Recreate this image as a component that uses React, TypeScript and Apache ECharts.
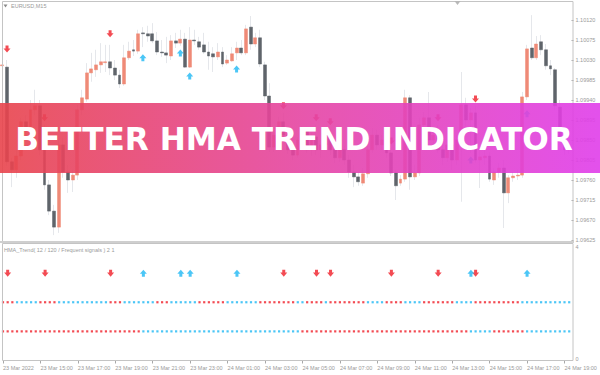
import React, { useEffect, useRef } from "react";
import * as echarts from "echarts";

const tickLabels = [
  "23 Mar 2022", "23 Mar 15:00", "23 Mar 17:00", "23 Mar 19:00", "23 Mar 21:00", "23 Mar 23:00",
  "24 Mar 01:00", "24 Mar 03:00", "24 Mar 05:00", "24 Mar 07:00", "24 Mar 09:00", "24 Mar 11:00",
  "24 Mar 13:00", "24 Mar 15:00", "24 Mar 17:00", "24 Mar 19:00",
];

const open = [
  1.10017, 1.10014, 1.09801, 1.09783, 1.09814, 1.09891, 1.09877, 1.09918, 1.09927, 1.09828,
  1.09749, 1.09690, 1.09654, 1.09839, 1.09778, 1.09760, 1.09771, 1.09918, 1.09942, 1.10001,
  1.10008, 1.10019, 1.10024, 1.10026, 1.10012, 1.09996, 1.09976, 1.10035, 1.10053, 1.10050,
  1.10091, 1.10089, 1.10089, 1.10073, 1.10048, 1.10046, 1.10039, 1.10073, 1.10068, 1.10077,
  1.10014, 1.10075, 1.10071, 1.10064, 1.10048, 1.10044, 1.10037, 1.10048, 1.10023, 1.10028,
  1.10046, 1.10057, 1.10046, 1.10104, 1.10066, 1.10080, 1.10019, 1.09949, 1.09834, 1.09861,
  1.09891, 1.09861, 1.09828, 1.09816, 1.09850, 1.09873, 1.09828, 1.09857, 1.09828, 1.09839,
  1.09859, 1.09828, 1.09810, 1.09828, 1.09805, 1.09778, 1.09767, 1.09753, 1.09774, 1.09828,
  1.09861, 1.09839, 1.09850, 1.09821, 1.09776, 1.09753, 1.09762, 1.09945, 1.09767, 1.09776,
  1.09884, 1.09900, 1.09850, 1.09861, 1.09828, 1.09810, 1.09839, 1.09805, 1.09850, 1.09929,
  1.09895, 1.09911, 1.09805, 1.09810, 1.09814, 1.09760, 1.09778, 1.09787, 1.09731, 1.09765,
  1.09769, 1.09771, 1.09947, 1.10057, 1.10035, 1.10071, 1.10053, 1.10017, 1.10008, 1.09924,
  1.09857, 1.09828,
];
const close = [
  1.10019, 1.09801, 1.09783, 1.09814, 1.09891, 1.09877, 1.09918, 1.09927, 1.09828, 1.09749,
  1.09690, 1.09654, 1.09839, 1.09778, 1.09760, 1.09771, 1.09918, 1.09945, 1.10001, 1.10010,
  1.10019, 1.10026, 1.10026, 1.10012, 1.09996, 1.09976, 1.10035, 1.10050, 1.10050, 1.10089,
  1.10089, 1.10084, 1.10073, 1.10048, 1.10046, 1.10041, 1.10073, 1.10068, 1.10077, 1.10014,
  1.10075, 1.10073, 1.10059, 1.10048, 1.10039, 1.10037, 1.10048, 1.10021, 1.10030, 1.10044,
  1.10057, 1.10046, 1.10100, 1.10066, 1.10080, 1.10021, 1.09949, 1.09834, 1.09861, 1.09891,
  1.09861, 1.09828, 1.09816, 1.09850, 1.09873, 1.09828, 1.09857, 1.09828, 1.09839, 1.09859,
  1.09828, 1.09810, 1.09828, 1.09805, 1.09778, 1.09767, 1.09756, 1.09774, 1.09828, 1.09861,
  1.09839, 1.09850, 1.09821, 1.09776, 1.09747, 1.09762, 1.09945, 1.09767, 1.09776, 1.09884,
  1.09900, 1.09850, 1.09861, 1.09828, 1.09810, 1.09839, 1.09805, 1.09850, 1.09929, 1.09895,
  1.09911, 1.09805, 1.09812, 1.09814, 1.09762, 1.09778, 1.09787, 1.09731, 1.09765, 1.09769,
  1.09771, 1.09947, 1.10055, 1.10035, 1.10066, 1.10053, 1.10017, 1.10010, 1.09927, 1.09857,
  1.09828, 1.09832,
];
const high = [
  1.10030, 1.10030, 1.09810, 1.09828, 1.09900, 1.09906, 1.09940, 1.09963, 1.09940, 1.09884,
  1.09760, 1.09704, 1.09850, 1.09855, 1.09794, 1.09783, 1.09929, 1.09963, 1.10023, 1.10046,
  1.10053, 1.10068, 1.10064, 1.10064, 1.10030, 1.10008, 1.10064, 1.10071, 1.10075, 1.10098,
  1.10104, 1.10107, 1.10113, 1.10093, 1.10075, 1.10082, 1.10086, 1.10091, 1.10098, 1.10091,
  1.10104, 1.10098, 1.10082, 1.10091, 1.10071, 1.10059, 1.10068, 1.10059, 1.10041, 1.10059,
  1.10071, 1.10075, 1.10109, 1.10129, 1.10091, 1.10098, 1.10026, 1.09978, 1.09873, 1.09902,
  1.09911, 1.09873, 1.09839, 1.09857, 1.09882, 1.09877, 1.09866, 1.09884, 1.09850, 1.09868,
  1.09875, 1.09839, 1.09834, 1.09837, 1.09816, 1.09794, 1.09778, 1.09787, 1.09839, 1.09877,
  1.09873, 1.09861, 1.09857, 1.09832, 1.09783, 1.09771, 1.09963, 1.09951, 1.09794, 1.09900,
  1.09913, 1.09958, 1.09873, 1.09884, 1.09839, 1.09850, 1.09850, 1.09861, 1.10003, 1.09945,
  1.09922, 1.09927, 1.09828, 1.09828, 1.09823, 1.09787, 1.09798, 1.09805, 1.09771, 1.09778,
  1.09783, 1.09958, 1.10064, 1.10131, 1.10084, 1.10086, 1.10066, 1.10030, 1.10012, 1.09940,
  1.09866, 1.09839,
];
const low = [
  1.10008, 1.09792, 1.09744, 1.09765, 1.09805, 1.09861, 1.09868, 1.09906, 1.09816, 1.09738,
  1.09681, 1.09636, 1.09641, 1.09765, 1.09731, 1.09733, 1.09760, 1.09906, 1.09936, 1.09981,
  1.09992, 1.10001, 1.10003, 1.09996, 1.09985, 1.09967, 1.09972, 1.10030, 1.10039, 1.10044,
  1.10059, 1.10071, 1.10068, 1.10041, 1.10037, 1.10023, 1.10030, 1.10057, 1.10062, 1.10012,
  1.10012, 1.10064, 1.10053, 1.10044, 1.10008, 1.10003, 1.10030, 1.10014, 1.10019, 1.10026,
  1.10030, 1.10041, 1.10041, 1.10053, 1.10059, 1.10014, 1.09940, 1.09823, 1.09823, 1.09850,
  1.09850, 1.09819, 1.09805, 1.09810, 1.09839, 1.09821, 1.09814, 1.09816, 1.09810, 1.09828,
  1.09816, 1.09798, 1.09801, 1.09794, 1.09765, 1.09744, 1.09747, 1.09747, 1.09765, 1.09821,
  1.09828, 1.09828, 1.09810, 1.09769, 1.09715, 1.09747, 1.09756, 1.09738, 1.09760, 1.09769,
  1.09873, 1.09843, 1.09839, 1.09821, 1.09794, 1.09801, 1.09783, 1.09794, 1.09711, 1.09877,
  1.09821, 1.09798, 1.09742, 1.09794, 1.09756, 1.09749, 1.09765, 1.09652, 1.09708, 1.09756,
  1.09760, 1.09765, 1.09940, 1.10030, 1.10030, 1.10041, 1.10008, 1.09996, 1.09918, 1.09850,
  1.09816, 1.09819,
];

const priceTicks = [
  1.09625, 1.0967, 1.09715, 1.0976, 1.09805, 1.0985, 1.09895, 1.0994, 1.09985, 1.1003, 1.10075, 1.1012,
];

const sellBars = [1, 9, 23, 60, 67, 70, 83, 93, 101];
const sellArrowPrice = [1.10055, 1.099, 1.10089, 1.09927, 1.099, 1.09891, 1.09848, 1.099, 1.09942];
const buyBars = [30, 38, 40, 50, 100, 112];
const buyArrowPrice = [1.10035, 1.10046, 1.09994, 1.1001, 1.09805, 1.09909];

// trend runs: [length, colour] ; r = down (red), c = up (cyan)
const fastRuns: [number, string][] = [
  [3, "r"], [5, "c"], [4, "r"], [11, "c"], [3, "r"], [7, "c"], [3, "r"], [6, "c"], [6, "r"], [7, "c"],
  [8, "r"], [2, "c"], [4, "r"], [1, "c"], [8, "r"], [4, "c"], [4, "r"], [4, "c"], [7, "r"], [3, "c"],
  [1, "c"], [10, "r"], [11, "c"],
];
const slowRuns: [number, string][] = [
  [30, "r"], [34, "c"], [36, "r"], [5, "c"], [7, "r"], [10, "c"],
];

const RED = "#F01E28";
const CYAN = "#1EB8F4";
const BULL = "#EF8A77";
const BEAR = "#5F646A";
const WICK = "#D4D7DD";
const AXIS_TXT = "#9a9a9a";
const FONT = "Liberation Sans";

const DOWN_ARROW = "path://M2,0 L5,0 L5,3 L7,3 L3.5,7 L0,3 L2,3 Z";
const UP_ARROW = "path://M3.5,0 L7,4 L5,4 L5,7 L2,7 L2,4 L0,4 Z";

function expandRuns(runs: [number, string][]): string[] {
  const out: string[] = [];
  runs.forEach(([n, c]) => {
    for (let k = 0; k < n; k++) out.push(c);
  });
  return out;
}

export default function App() {
  const ref = useRef<HTMLDivElement>(null);

  useEffect(() => {
    if (!ref.current) return;
    const chart = echarts.init(ref.current, undefined, { renderer: "svg" });

    const n = open.length;
    const start = Date.UTC(2022, 2, 23, 13, 0);
    const cats: string[] = [];
    for (let i = 0; i < n; i++) {
      const d = new Date(start + i * 15 * 60000);
      cats.push(d.toISOString().slice(0, 16));
    }
    const wickData = open.map((o, i) => [o, close[i], low[i], high[i]]);
    const bodyData = open.map((o, i) => [o, close[i], Math.min(o, close[i]), Math.max(o, close[i])]);
    const fast = expandRuns(fastRuns);
    const slow = expandRuns(slowRuns);

    const bw = 4.6875;
    const gridLeft = 2 - bw / 2;
    const gridWidth = bw * n;

    const showEvery8 = (idx: number) => idx % 8 === 0;

    chart.setOption({
      animation: false,
      backgroundColor: "#ffffff",
      grid: [
        { left: gridLeft, top: 2, width: gridWidth, height: 240 },
        { left: gridLeft, top: 244, width: gridWidth, height: 116.5 },
      ],
      xAxis: [
        {
          type: "category", gridIndex: 0, data: cats, boundaryGap: true,
          axisLine: { show: false }, axisTick: { show: false }, axisLabel: { show: false }, splitLine: { show: false },
        },
        {
          type: "category", gridIndex: 1, data: cats, boundaryGap: true,
          axisLine: { show: false },
          axisTick: { show: true, alignWithLabel: true, interval: showEvery8, length: 3, lineStyle: { color: "#a8a8a8", width: 1 } },
          axisLabel: {
            show: true, interval: showEvery8, align: "left", margin: 4, fontSize: 5.5, color: AXIS_TXT, fontFamily: FONT,
            formatter: (_v: string, idx: number) => (idx % 8 === 0 ? tickLabels[idx / 8] ?? "" : ""),
          },
          splitLine: { show: false },
        },
      ],
      yAxis: [
        {
          type: "value", gridIndex: 0, position: "right", min: 1.096205, max: 1.101605,
          axisLine: { show: false },
          axisTick: { show: true, length: 2, customValues: priceTicks, lineStyle: { color: "#a8a8a8" } },
          axisLabel: {
            show: true, customValues: priceTicks, margin: 4, fontSize: 5.5, color: AXIS_TXT, fontFamily: FONT,
            formatter: (v: number) => v.toFixed(5),
          },
          splitLine: { show: false },
        },
        {
          type: "value", gridIndex: 1, position: "right", min: 0, max: 4,
          axisLine: { show: false },
          axisTick: { show: false },
          axisLabel: {
            show: true, customValues: [0, 4], margin: 4, fontSize: 5.5, color: AXIS_TXT, fontFamily: FONT,
            formatter: (v: number) => (v === 4 ? "{t|4}" : "{b|0}"),
            rich: {
              t: { padding: [6, 0, 0, 0], fontSize: 5.5, color: AXIS_TXT, fontFamily: FONT },
              b: { padding: [0, 0, 3, 0], fontSize: 5.5, color: AXIS_TXT, fontFamily: FONT },
            },
          },
          splitLine: { show: false },
        },
      ],
      series: [
        {
          type: "candlestick", xAxisIndex: 0, yAxisIndex: 0, data: wickData, barWidth: 1,
          itemStyle: { color: WICK, color0: WICK, borderColor: WICK, borderColor0: WICK, borderWidth: 0.6 },
          z: 1,
        },
        {
          type: "candlestick", xAxisIndex: 0, yAxisIndex: 0, data: bodyData, barWidth: 3.4,
          itemStyle: { color: BULL, color0: BEAR, borderColor: BULL, borderColor0: BEAR, borderWidth: 0.5 },
          z: 2,
        },
        {
          type: "scatter", xAxisIndex: 0, yAxisIndex: 0, symbol: DOWN_ARROW, symbolSize: 7,
          data: sellBars.map((b, k) => [b, sellArrowPrice[k]]), itemStyle: { color: RED }, z: 3,
        },
        {
          type: "scatter", xAxisIndex: 0, yAxisIndex: 0, symbol: UP_ARROW, symbolSize: 7,
          data: buyBars.map((b, k) => [b, buyArrowPrice[k]]), itemStyle: { color: CYAN }, z: 3,
        },
        {
          type: "scatter", xAxisIndex: 1, yAxisIndex: 1, symbol: DOWN_ARROW, symbolSize: 7,
          data: sellBars.map((b) => [b, 3]), itemStyle: { color: RED }, z: 3,
        },
        {
          type: "scatter", xAxisIndex: 1, yAxisIndex: 1, symbol: UP_ARROW, symbolSize: 7,
          data: buyBars.map((b) => [b, 3]), itemStyle: { color: CYAN }, z: 3,
        },
        {
          type: "scatter", xAxisIndex: 1, yAxisIndex: 1, symbol: "rect", symbolSize: [2.2, 2.2],
          data: fast.map((c, i) => ({ value: [i, 2], itemStyle: { color: c === "r" ? RED : CYAN } })), z: 3,
        },
        {
          type: "scatter", xAxisIndex: 1, yAxisIndex: 1, symbol: "rect", symbolSize: [2.2, 2.2],
          data: slow.map((c, i) => ({ value: [i, 1], itemStyle: { color: c === "r" ? RED : CYAN } })), z: 3,
        },
      ],
      graphic: [
        { type: "rect", z: 50, silent: true, shape: { x: 2.5, y: 1.5, width: 570.5, height: 240 }, style: { fill: "none", stroke: "#c4c4c4", lineWidth: 1 } },
        { type: "rect", z: 50, silent: true, shape: { x: 0, y: 241, width: 574, height: 2 }, style: { fill: "#cfcfcf" } },
        { type: "rect", z: 50, silent: true, shape: { x: 2.5, y: 243.5, width: 570.5, height: 117 }, style: { fill: "none", stroke: "#c4c4c4", lineWidth: 1 } },
        { type: "polygon", z: 50, silent: true, shape: { points: [[3.5, 4.5], [7.5, 4.5], [5.5, 7.5]] }, style: { fill: "#8a8a8a" } },
        { type: "text", z: 50, silent: true, style: { x: 11, y: 6, text: "EURUSD,M15", fontSize: 5.5, fontFamily: FONT, fill: AXIS_TXT, textVerticalAlign: "middle" } },
        { type: "polygon", z: 50, silent: true, shape: { points: [[454.5, 1], [460.5, 1], [457.5, 5]] }, style: { fill: "#b8b8b8" } },
        { type: "text", z: 50, silent: true, style: { x: 4, y: 249.5, text: "HMA_Trend( 12 / 120 / Frequent signals ) 2 1", fontSize: 5.5, fontFamily: FONT, fill: AXIS_TXT, textVerticalAlign: "middle" } },
        {
          type: "rect", z: 100, silent: true,
          shape: { x: 0, y: 103, width: 600, height: 70 },
          style: {
            opacity: 0.9,
            fill: new echarts.graphic.LinearGradient(0, 0, 1, 0, [
              { offset: 0, color: "#E8444C" },
              { offset: 0.5, color: "#E545A2" },
              { offset: 1, color: "#E03EEA" },
            ]),
          },
        },
        {
          type: "text", z: 101, silent: true,
          style: {
            x: 294, y: 139, text: "BETTER HMA TREND INDICATOR", fontSize: 31.2, fontWeight: "bold",
            fontFamily: "DejaVu Sans", fill: "#ffffff", textAlign: "center", textVerticalAlign: "middle",
          },
        },
      ],
    });

    return () => chart.dispose();
  }, []);

  return <div ref={ref} style={{ position: "fixed", left: 0, top: 0, width: 600, height: 375 }} />;
}
